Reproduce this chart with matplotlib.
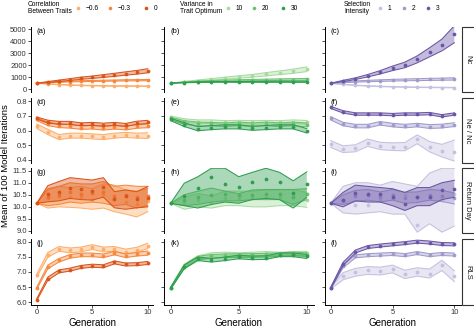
import matplotlib
matplotlib.use("Agg")
import matplotlib.pyplot as plt
import matplotlib.patches as mpatches
from matplotlib.lines import Line2D
from matplotlib.transforms import blended_transform_factory
import numpy as np

plt.rcParams["font.family"] = ["Liberation Sans", "DejaVu Sans"]

W, H = 474, 327
generation = np.arange(11)

corr_levels = ["\u22120.6", "\u22120.3", "0"]
var_levels = ["10", "20", "30"]
sel_levels = ["1", "2", "3"]

corr_colors = ["#fdae6b", "#f7873d", "#d9541a"]
var_colors = ["#a6dba0", "#6cc070", "#2e9e4f"]
sel_colors = ["#c3c1e0", "#9f9acb", "#6b55a6"]

# ---- Nc ----
nc_corr_mean = [[480, 420, 370, 330, 300, 280, 265, 255, 245, 240, 230],
                [480, 540, 590, 625, 650, 670, 690, 705, 720, 730, 740],
                [480, 580, 680, 790, 900, 980, 1080, 1180, 1290, 1390, 1520]]
nc_corr_lo = [[480, 405, 350, 310, 280, 260, 245, 235, 225, 220, 210],
              [480, 515, 560, 590, 610, 630, 645, 660, 670, 680, 685],
              [480, 540, 620, 715, 810, 880, 965, 1050, 1150, 1235, 1350]]
nc_corr_hi = [[480, 435, 390, 350, 320, 300, 285, 275, 265, 260, 250],
              [480, 565, 620, 660, 690, 710, 735, 750, 770, 780, 795],
              [480, 620, 740, 865, 990, 1080, 1195, 1310, 1430, 1545, 1690]]

nc_var_mean = [[480, 600, 700, 800, 900, 1000, 1100, 1230, 1350, 1480, 1650],
               [480, 560, 620, 660, 700, 720, 740, 760, 780, 790, 800],
               [480, 540, 570, 585, 590, 590, 595, 595, 600, 600, 600]]
nc_var_lo = [[480, 570, 650, 735, 815, 900, 985, 1095, 1195, 1305, 1450],
             [480, 535, 585, 620, 655, 670, 685, 700, 715, 720, 725],
             [480, 520, 545, 555, 560, 555, 560, 555, 560, 555, 555]]
nc_var_hi = [[480, 630, 750, 865, 985, 1100, 1215, 1365, 1505, 1655, 1850],
             [480, 585, 655, 700, 745, 770, 795, 820, 845, 860, 875],
             [480, 560, 595, 615, 620, 625, 630, 635, 640, 645, 645]]

nc_sel_mean = [[480, 380, 310, 255, 215, 185, 165, 145, 135, 125, 115],
               [480, 560, 620, 665, 700, 730, 760, 780, 800, 820, 840],
               [480, 670, 860, 1110, 1390, 1720, 2000, 2470, 3060, 3670, 4560]]
nc_sel_lo = [[480, 365, 290, 235, 195, 165, 145, 125, 115, 105, 95],
             [480, 520, 570, 605, 635, 660, 685, 700, 715, 730, 745],
             [480, 620, 790, 1010, 1250, 1530, 1770, 2180, 2680, 3180, 3850]]
nc_sel_hi = [[480, 395, 330, 275, 235, 205, 185, 165, 155, 145, 135],
             [480, 600, 670, 725, 765, 800, 835, 860, 885, 910, 935],
             [480, 720, 930, 1210, 1530, 1910, 2240, 2760, 3440, 4160, 5270]]

# ---- Ne / Nc ----
nenc_corr_mean = [[0.630, 0.590, 0.555, 0.565, 0.565, 0.560, 0.555, 0.565, 0.570, 0.565, 0.565],
                  [0.675, 0.645, 0.632, 0.628, 0.620, 0.622, 0.615, 0.622, 0.616, 0.628, 0.632],
                  [0.685, 0.660, 0.652, 0.652, 0.642, 0.645, 0.640, 0.645, 0.638, 0.652, 0.658]]
nenc_corr_lo = [[0.615, 0.572, 0.538, 0.548, 0.548, 0.543, 0.538, 0.548, 0.553, 0.548, 0.546],
                [0.667, 0.633, 0.620, 0.616, 0.608, 0.610, 0.603, 0.610, 0.604, 0.615, 0.619],
                [0.678, 0.650, 0.642, 0.642, 0.632, 0.635, 0.630, 0.635, 0.628, 0.641, 0.647]]
nenc_corr_hi = [[0.645, 0.608, 0.572, 0.582, 0.582, 0.577, 0.572, 0.582, 0.587, 0.582, 0.584],
                [0.683, 0.657, 0.644, 0.640, 0.632, 0.634, 0.627, 0.634, 0.628, 0.641, 0.645],
                [0.692, 0.670, 0.662, 0.662, 0.652, 0.655, 0.650, 0.655, 0.648, 0.663, 0.669]]

nenc_var_mean = [[0.690, 0.668, 0.660, 0.660, 0.655, 0.657, 0.655, 0.656, 0.655, 0.660, 0.655],
                 [0.682, 0.655, 0.645, 0.643, 0.640, 0.645, 0.640, 0.645, 0.640, 0.645, 0.638],
                 [0.675, 0.640, 0.612, 0.620, 0.625, 0.625, 0.615, 0.620, 0.625, 0.625, 0.598]]
nenc_var_lo = [[0.682, 0.656, 0.648, 0.648, 0.643, 0.645, 0.643, 0.644, 0.643, 0.648, 0.642],
               [0.674, 0.643, 0.633, 0.631, 0.628, 0.633, 0.628, 0.633, 0.628, 0.633, 0.625],
               [0.667, 0.627, 0.598, 0.606, 0.611, 0.611, 0.601, 0.606, 0.611, 0.611, 0.583]]
nenc_var_hi = [[0.698, 0.680, 0.672, 0.672, 0.667, 0.669, 0.667, 0.668, 0.667, 0.672, 0.668],
               [0.690, 0.667, 0.657, 0.655, 0.652, 0.657, 0.652, 0.657, 0.652, 0.657, 0.651],
               [0.683, 0.653, 0.626, 0.634, 0.639, 0.639, 0.629, 0.634, 0.639, 0.639, 0.613]]

nenc_sel_mean = [[0.508, 0.473, 0.479, 0.517, 0.495, 0.490, 0.490, 0.540, 0.490, 0.463, 0.456],
                 [0.683, 0.644, 0.630, 0.630, 0.649, 0.637, 0.630, 0.637, 0.627, 0.630, 0.640],
                 [0.757, 0.727, 0.712, 0.712, 0.712, 0.708, 0.712, 0.712, 0.715, 0.700, 0.712]]
nenc_sel_lo = [[0.485, 0.450, 0.455, 0.492, 0.470, 0.464, 0.462, 0.510, 0.455, 0.420, 0.392],
               [0.672, 0.632, 0.618, 0.618, 0.637, 0.625, 0.618, 0.625, 0.614, 0.617, 0.627],
               [0.750, 0.719, 0.704, 0.704, 0.704, 0.700, 0.704, 0.704, 0.707, 0.692, 0.704]]
nenc_sel_hi = [[0.531, 0.496, 0.503, 0.542, 0.520, 0.516, 0.518, 0.570, 0.525, 0.506, 0.535],
               [0.694, 0.656, 0.642, 0.642, 0.661, 0.649, 0.642, 0.649, 0.640, 0.643, 0.653],
               [0.764, 0.735, 0.720, 0.720, 0.720, 0.716, 0.720, 0.720, 0.723, 0.708, 0.720]]

# ---- Return day ----
ret_corr_mean = [[10.15, 10.35, 10.45, 10.40, 10.40, 10.30, 10.50, 10.35, 10.20, 10.10, 10.25],
                 [10.15, 10.42, 10.50, 10.62, 10.55, 10.58, 10.60, 10.45, 10.50, 10.42, 10.45],
                 [10.15, 10.52, 10.63, 10.80, 10.73, 10.67, 10.82, 10.31, 10.46, 10.33, 10.35]]
ret_corr_lo = [[10.15, 9.95, 10.00, 9.98, 9.95, 9.90, 9.95, 9.80, 9.70, 9.58, 9.80],
               [10.15, 10.05, 10.10, 10.20, 10.15, 10.20, 10.15, 10.05, 10.10, 9.95, 10.05],
               [10.15, 10.21, 10.25, 10.35, 10.30, 10.28, 10.40, 9.96, 9.90, 9.96, 10.00]]
ret_corr_hi = [[10.15, 10.70, 10.85, 10.80, 10.85, 10.75, 10.95, 10.90, 10.70, 10.65, 10.75],
               [10.15, 10.75, 10.85, 11.00, 10.95, 10.95, 11.05, 10.85, 10.90, 10.85, 10.85],
               [10.15, 10.88, 11.05, 11.21, 11.16, 11.11, 11.21, 10.63, 10.70, 10.63, 10.84]]

ret_var_mean = [[10.15, 10.15, 10.30, 10.18, 10.38, 10.35, 10.35, 10.38, 10.40, 10.40, 10.30],
                [10.15, 10.28, 10.40, 10.48, 10.55, 10.48, 10.50, 10.55, 10.55, 10.40, 10.55],
                [10.15, 10.46, 10.77, 11.23, 10.95, 10.81, 11.04, 11.14, 11.04, 10.56, 10.95]]
ret_var_lo = [[10.15, 9.90, 10.00, 9.95, 10.05, 10.05, 10.00, 10.00, 10.05, 10.05, 9.98],
              [10.15, 10.05, 10.10, 10.20, 10.25, 10.25, 10.30, 10.30, 10.30, 10.10, 10.30],
              [10.15, 10.05, 9.95, 10.10, 10.20, 10.15, 10.30, 10.35, 10.30, 9.95, 10.40]]
ret_var_hi = [[10.15, 10.40, 10.55, 10.45, 10.65, 10.65, 10.65, 10.70, 10.70, 10.70, 10.60],
              [10.15, 10.50, 10.65, 10.78, 10.65, 10.55, 10.70, 10.72, 10.72, 10.72, 10.75],
              [10.15, 10.98, 11.25, 11.60, 11.60, 11.25, 11.43, 11.60, 11.43, 11.08, 11.45]]

ret_sel_mean = [[10.15, 10.25, 10.08, 10.08, 10.30, 10.35, 10.50, 9.25, 10.40, 10.30, 10.55],
                [10.15, 10.30, 10.45, 10.50, 10.40, 10.50, 10.38, 10.40, 10.50, 10.45, 10.35],
                [10.15, 10.27, 10.56, 10.52, 10.52, 10.40, 10.13, 10.42, 10.42, 10.69, 10.74]]
ret_sel_lo = [[10.15, 9.75, 9.70, 9.75, 9.80, 9.70, 9.70, 8.95, 9.30, 8.95, 9.20],
              [10.15, 10.10, 10.22, 10.28, 10.20, 10.28, 10.15, 10.18, 10.28, 10.22, 10.12],
              [10.15, 10.00, 10.25, 10.20, 10.20, 10.05, 9.85, 10.05, 10.05, 10.30, 10.40]]
ret_sel_hi = [[10.15, 10.85, 11.00, 11.00, 10.90, 11.05, 10.95, 10.85, 11.40, 11.60, 11.60],
              [10.15, 10.50, 10.68, 10.72, 10.62, 10.72, 10.60, 10.62, 10.72, 10.68, 10.58],
              [10.15, 10.60, 10.90, 10.85, 10.80, 10.75, 10.60, 10.80, 10.80, 11.00, 11.10]]

# ---- RLS ----
rls_corr_mean = [[6.885, 7.57, 7.77, 7.72, 7.75, 7.83, 7.75, 7.77, 7.68, 7.74, 7.87],
                 [6.46, 7.17, 7.39, 7.52, 7.57, 7.57, 7.54, 7.63, 7.54, 7.59, 7.63],
                 [6.08, 6.78, 7.02, 7.08, 7.17, 7.21, 7.19, 7.32, 7.25, 7.26, 7.30]]
rls_corr_lo = [[6.84, 7.49, 7.69, 7.64, 7.67, 7.75, 7.67, 7.69, 7.60, 7.66, 7.78],
               [6.43, 7.11, 7.33, 7.46, 7.51, 7.51, 7.48, 7.57, 7.48, 7.53, 7.56],
               [6.05, 6.73, 6.97, 7.03, 7.12, 7.16, 7.14, 7.27, 7.20, 7.21, 7.25]]
rls_corr_hi = [[6.93, 7.65, 7.85, 7.80, 7.83, 7.91, 7.83, 7.85, 7.76, 7.82, 7.96],
               [6.49, 7.23, 7.45, 7.58, 7.63, 7.63, 7.60, 7.69, 7.60, 7.65, 7.70],
               [6.11, 6.83, 7.07, 7.13, 7.22, 7.26, 7.24, 7.37, 7.30, 7.31, 7.35]]

rls_var_mean = [[6.46, 7.20, 7.48, 7.58, 7.60, 7.58, 7.60, 7.62, 7.60, 7.62, 7.62],
                [6.46, 7.18, 7.46, 7.52, 7.54, 7.55, 7.55, 7.56, 7.58, 7.60, 7.58],
                [6.46, 7.17, 7.44, 7.39, 7.44, 7.50, 7.47, 7.48, 7.57, 7.57, 7.52]]
rls_var_lo = [[6.43, 7.14, 7.42, 7.52, 7.54, 7.52, 7.54, 7.56, 7.54, 7.56, 7.55],
              [6.43, 7.12, 7.40, 7.46, 7.48, 7.49, 7.49, 7.50, 7.52, 7.54, 7.52],
              [6.43, 7.11, 7.38, 7.33, 7.38, 7.44, 7.41, 7.42, 7.51, 7.51, 7.45]]
rls_var_hi = [[6.49, 7.26, 7.54, 7.64, 7.66, 7.64, 7.66, 7.68, 7.66, 7.68, 7.69],
              [6.49, 7.24, 7.52, 7.58, 7.60, 7.61, 7.61, 7.62, 7.64, 7.66, 7.64],
              [6.49, 7.23, 7.50, 7.45, 7.50, 7.56, 7.53, 7.54, 7.63, 7.63, 7.59]]

rls_sel_mean = [[6.46, 6.86, 6.99, 7.05, 7.03, 7.10, 6.92, 7.00, 6.95, 7.22, 6.86],
                [6.46, 7.19, 7.52, 7.56, 7.58, 7.60, 7.56, 7.63, 7.56, 7.60, 7.58],
                [6.46, 7.27, 7.68, 7.83, 7.88, 7.92, 7.96, 8.01, 7.98, 7.93, 7.92]]
rls_sel_lo = [[6.43, 6.74, 6.86, 6.92, 6.90, 6.97, 6.78, 6.86, 6.80, 7.05, 6.68],
              [6.43, 7.14, 7.47, 7.51, 7.53, 7.55, 7.51, 7.58, 7.51, 7.55, 7.53],
              [6.43, 7.22, 7.63, 7.78, 7.83, 7.87, 7.91, 7.96, 7.93, 7.88, 7.87]]
rls_sel_hi = [[6.49, 6.98, 7.12, 7.18, 7.16, 7.23, 7.06, 7.14, 7.10, 7.39, 7.04],
              [6.49, 7.24, 7.57, 7.61, 7.63, 7.65, 7.61, 7.68, 7.61, 7.65, 7.63],
              [6.49, 7.32, 7.73, 7.88, 7.93, 7.97, 8.01, 8.06, 8.03, 7.98, 7.97]]

# layout in pixels: columns (left, right) and rows (top, bottom)
col_px = [(31.2, 153.3), (163.8, 313.6), (324.5, 460.5)]
row_px = [(27, 92), (98, 163), (168, 233), (239, 305)]

rows = [
    dict(strip="Nc", ylim=(-250, 5167), ticks=[0, 1000, 2000, 3000, 4000, 5000], fmt="{:.0f}",
         data=[(nc_corr_mean, nc_corr_lo, nc_corr_hi), (nc_var_mean, nc_var_lo, nc_var_hi),
               (nc_sel_mean, nc_sel_lo, nc_sel_hi)]),
    dict(strip="Ne / Nc", ylim=(0.379, 0.821), ticks=[0.4, 0.5, 0.6, 0.7, 0.8], fmt="{:.1f}",
         data=[(nenc_corr_mean, nenc_corr_lo, nenc_corr_hi), (nenc_var_mean, nenc_var_lo, nenc_var_hi),
               (nenc_sel_mean, nenc_sel_lo, nenc_sel_hi)]),
    dict(strip="Return Day", ylim=(8.917, 11.61), ticks=[9.0, 9.5, 10.0, 10.5, 11.0, 11.5], fmt="{:.1f}",
         data=[(ret_corr_mean, ret_corr_lo, ret_corr_hi), (ret_var_mean, ret_var_lo, ret_var_hi),
               (ret_sel_mean, ret_sel_lo, ret_sel_hi)]),
    dict(strip="RLS", ylim=(5.902, 8.098), ticks=[6.0, 6.5, 7.0, 7.5, 8.0], fmt="{:.1f}",
         data=[(rls_corr_mean, rls_corr_lo, rls_corr_hi), (rls_var_mean, rls_var_lo, rls_var_hi),
               (rls_sel_mean, rls_sel_lo, rls_sel_hi)]),
]
palettes = [corr_colors, var_colors, sel_colors]
panel_letters = "abcdefghijkl"

axis_col = "#333333"
fig = plt.figure(figsize=(W / 100, H / 100), dpi=100)


def px_axes(x0, x1, y0, y1):
    return fig.add_axes([x0 / W, 1 - y1 / H, (x1 - x0) / W, (y1 - y0) / H])


for r, row in enumerate(rows):
    for c in range(3):
        ax = px_axes(col_px[c][0], col_px[c][1], row_px[r][0], row_px[r][1])
        mean, lo, hi = row["data"][c]
        for k in range(3):
            col = palettes[c][k]
            ax.fill_between(generation, lo[k], hi[k], facecolor=col, alpha=0.4,
                            edgecolor="none", zorder=1 + k)
            ax.plot(generation, lo[k], color=col, lw=0.75, zorder=1.5 + k)
            ax.plot(generation, hi[k], color=col, lw=0.75, zorder=1.5 + k)
            ax.plot(generation, mean[k], "o", color=col, ms=2.7, mew=0, zorder=1.6 + k)

        ax.set_xlim(-0.5, 10.5)
        ax.set_ylim(*row["ylim"])
        ax.set_facecolor("none")
        for s in ["top", "right"]:
            ax.spines[s].set_visible(False)
        ax.spines["left"].set_linewidth(0.7)
        ax.spines["left"].set_color("black")
        ax.set_yticks(row["ticks"])
        if c == 0:
            ax.set_yticklabels([row["fmt"].format(t) for t in row["ticks"]])
        else:
            ax.set_yticklabels([])
        ax.tick_params(axis="y", length=2, width=0.6, pad=1.2, labelsize=5.5, labelcolor=axis_col,
                       color=axis_col)
        if r == 3:
            ax.spines["bottom"].set_linewidth(0.7)
            ax.spines["bottom"].set_color("black")
            ax.set_xticks([0, 5, 10])
            ax.tick_params(axis="x", length=2, width=0.6, pad=1.2, labelsize=5.5,
                           labelcolor=axis_col, color=axis_col)
            ax.set_xlabel("Generation", fontsize=7, labelpad=1)
        else:
            ax.spines["bottom"].set_visible(False)
            ax.set_xticks([])

        trans = blended_transform_factory(ax.transData, ax.transAxes)
        ax.text(0, 0.935, f"({panel_letters[r * 3 + c]})", transform=trans, fontsize=5.5,
                ha="left", va="center", color="black", zorder=10)

    # facet strip on the right
    y0, y1 = row_px[r]
    fig.add_artist(mpatches.Rectangle((462 / W, 1 - y1 / H), 20 / W, (y1 - y0) / H,
                                      transform=fig.transFigure, facecolor="white",
                                      edgecolor="#333333", lw=0.8))
    fig.text(468 / W, 1 - (y0 + y1) / 2 / H, row["strip"], rotation=270, fontsize=5.5,
             ha="center", va="center", color="#1a1a1a")

fig.text(6 / W, 1 - 166 / H, "Mean of 100 Model Iterations", rotation=90, fontsize=6.8,
         ha="center", va="center")

# legends across the top
legend_specs = [
    ("Correlation\nBetween Traits", 28, corr_levels, corr_colors, [78, 110, 146]),
    ("Variance in\nTrait Optimum", 180, var_levels, var_colors, [228, 254, 283]),
    ("Selection\nIntensity", 344, sel_levels, sel_colors, [380, 404, 428]),
]
leg_y = 1 - 8 / H
for title, tx, levels, cols, xs in legend_specs:
    fig.text(tx / W, leg_y, title, fontsize=4.8, ha="left", va="center", linespacing=0.95)
    for lab, col, x in zip(levels, cols, xs):
        fig.add_artist(Line2D([x / W], [leg_y], marker="o", color=col, ms=2.6, mew=0,
                              transform=fig.transFigure))
        fig.text((x + 8) / W, leg_y, lab, fontsize=4.8, ha="left", va="center")

fig.savefig("out.png", dpi=100)
